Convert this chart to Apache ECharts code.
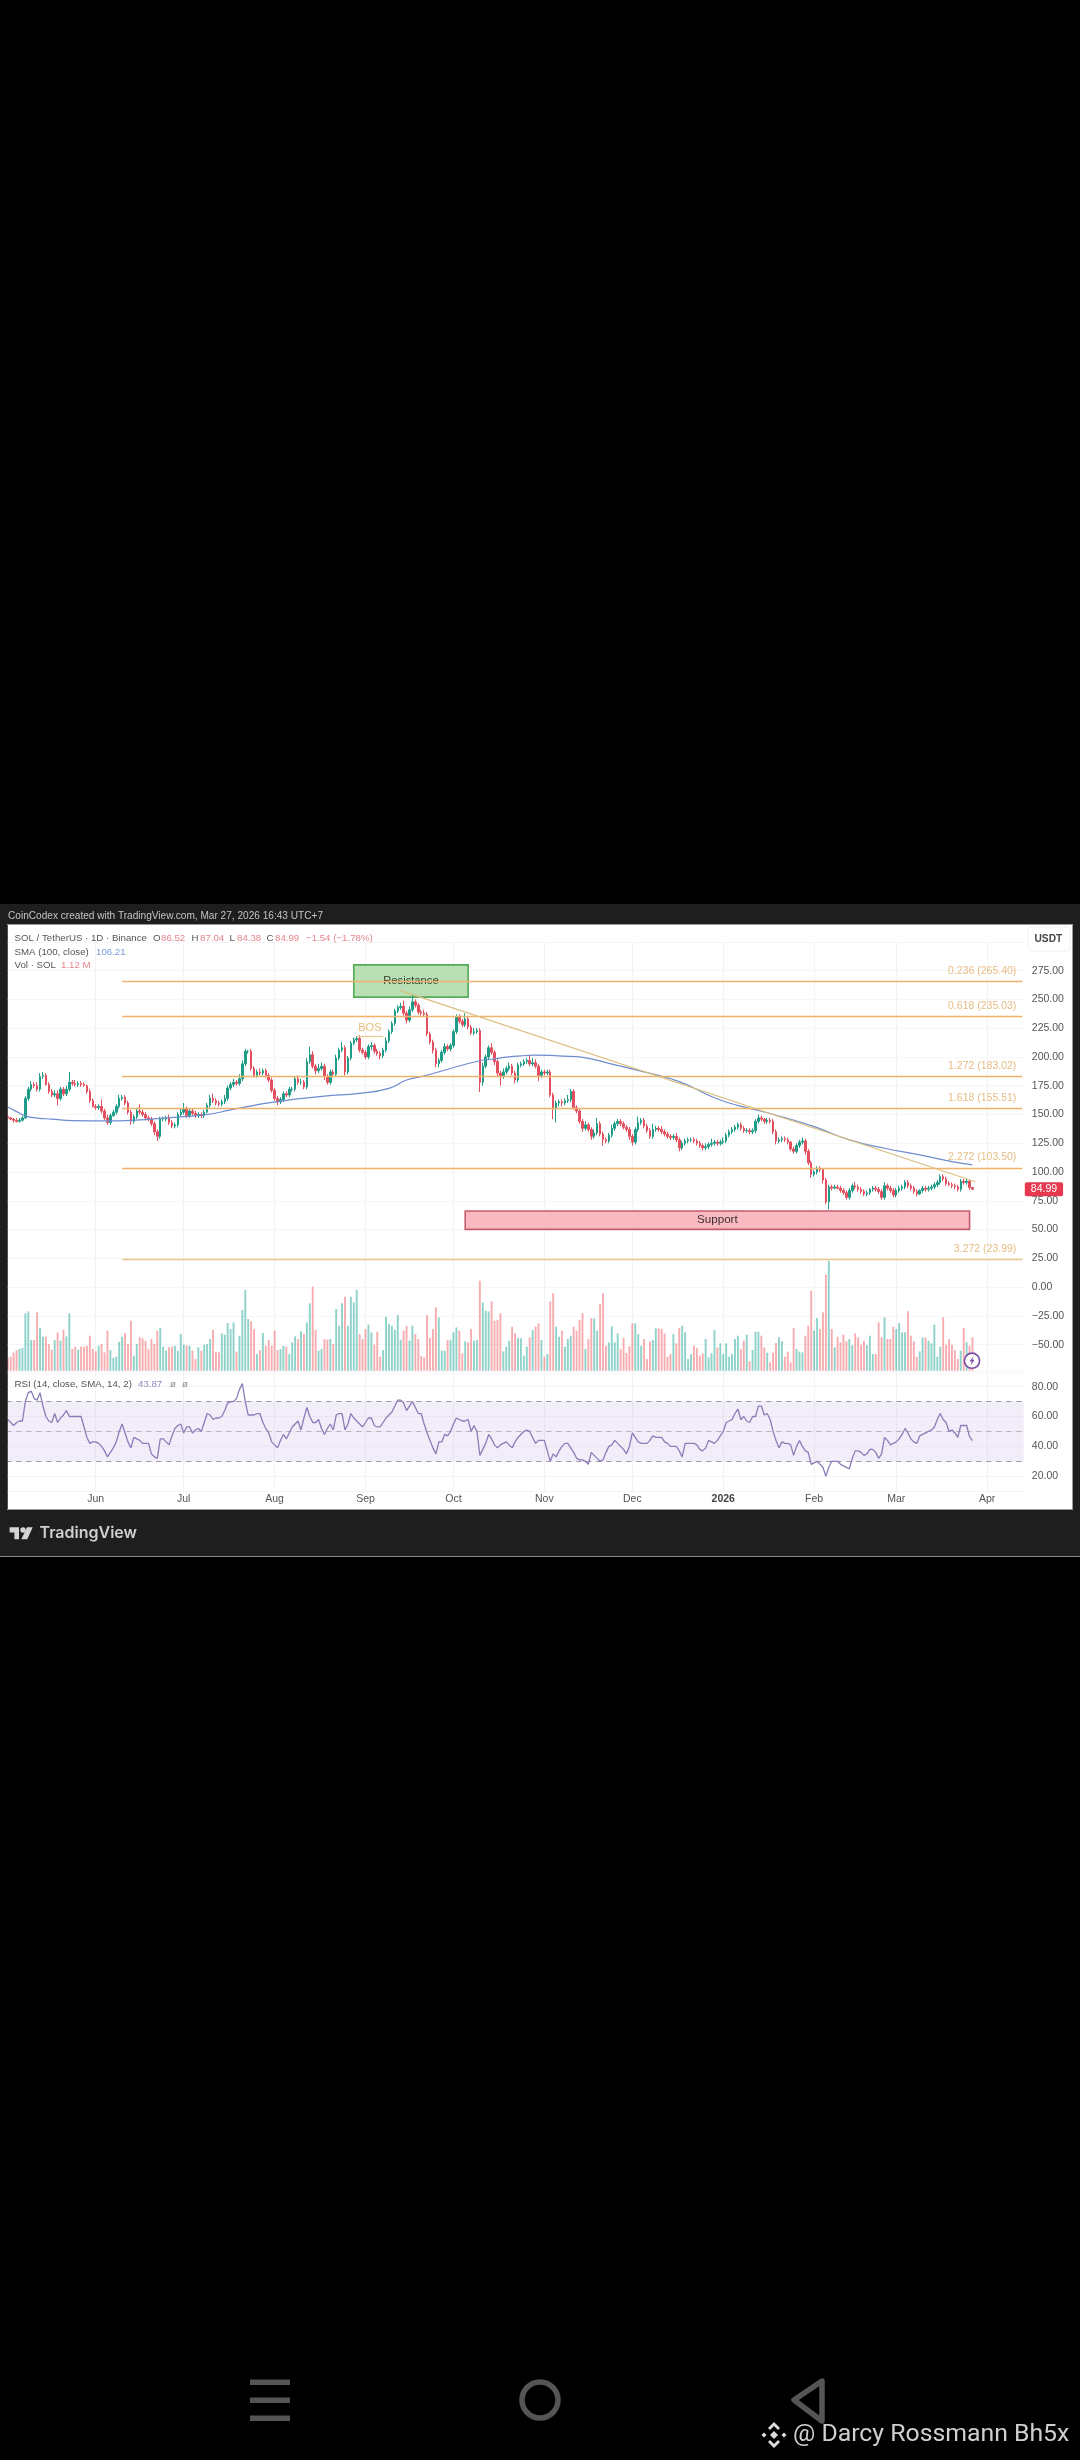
<!DOCTYPE html>
<html><head><meta charset="utf-8">
<style>html,body{margin:0;padding:0;background:#000}#c{width:1080px;height:2460px}
#soft{position:absolute;left:0;top:904px;width:1080px;height:653px;backdrop-filter:blur(0.45px);-webkit-backdrop-filter:blur(0.45px);pointer-events:none}</style>
<script src="https://cdn.jsdelivr.net/npm/echarts@6/dist/echarts.min.js"></script>
</head><body><div id="c"></div><div id="soft"></div>
<script>
// Daily closes, May 2 2025 -> Mar 27 2026
const closes = [
147,146,145,144,145,147,164,172,176,175,
172,183,184,176,170,167,168,164,172,168,
172,178,177,176,177,176,175,170,162,157,
156,157,153,147,143,149,152,157,164,165,
160,152,144,148,153,152,150,147,146,142,
135,131,146,146,147,143,140,141,150,152,
155,149,153,151,149,150,149,152,158,164,
162,160,159,161,164,173,176,178,177,181,
194,205,205,190,184,187,186,188,184,180,
171,164,161,163,168,167,172,172,181,178,
178,174,196,202,192,188,190,192,183,178,
187,185,199,206,208,187,199,212,215,216,
206,204,200,209,210,205,203,201,206,214,
222,229,240,243,244,238,232,241,248,245,
239,238,237,220,213,206,194,197,204,209,
207,210,222,235,231,228,233,226,221,222,
223,178,192,200,208,204,196,186,183,187,
190,192,186,180,193,194,196,197,194,195,
192,184,187,186,187,167,155,160,161,160,
162,163,170,156,153,144,138,141,137,131,
134,142,133,128,127,132,138,142,144,142,
139,137,131,126,137,143,145,140,136,131,
137,138,137,135,133,131,130,131,128,121,
125,127,128,128,127,125,123,121,122,124,
125,126,125,126,127,132,135,137,139,141,
138,136,136,135,136,144,147,146,144,145,
144,135,127,128,129,128,126,120,118,123,
126,127,118,108,98,100,103,102,93,74,
87,86,87,86,84,82,78,84,88,87,
85,83,81,82,85,86,85,83,78,88,
86,84,80,84,86,87,91,88,86,83,
81,84,86,85,86,87,89,91,96,94,
90,89,88,87,85,92,91,92,86.52,84.99];
const firstOpen = 148;
const wickUp = [
2,1,1,2,2,2,2,2,3,2,
3,3,3,2,2,2,3,3,2,2,
3,9,2,3,2,2,2,1,2,2,
2,2,6,2,3,2,2,2,3,2,
2,2,2,2,3,6,2,2,2,2,
2,2,2,2,2,3,2,2,2,3,
5,2,2,2,2,2,2,2,2,3,
4,2,2,2,3,2,2,3,2,4,
3,2,1,2,2,2,3,2,2,2,
2,2,2,2,2,2,2,2,2,3,
3,2,3,7,3,2,4,3,2,2,
2,2,3,2,5,2,2,2,2,2,
3,2,2,2,3,2,2,2,2,3,
2,2,2,2,3,5,2,3,6,2,
2,2,3,2,2,2,2,2,2,3,
2,2,2,2,2,2,5,2,2,3,
2,2,3,2,2,4,2,2,2,3,
2,3,2,2,2,2,2,2,5,4,
3,2,2,2,2,2,2,2,2,2,
2,4,2,2,2,2,2,3,2,2,
3,5,2,2,2,2,3,2,2,2,
2,2,2,2,2,5,2,2,2,2,
5,2,2,3,2,2,2,2,3,2,
2,2,2,2,2,2,2,2,3,2,
4,2,2,2,3,2,2,2,2,2,
2,2,2,2,2,2,3,2,1,2,
2,2,2,2,2,2,2,1,2,2,
2,3,2,2,2,2,2,2,1,2,
2,2,2,2,2,2,2,2,2,3.6,
2,2,2,2,1,2,2,2,2,3,
2,2,2,2,2,2,2,2,2,2,
2,1,2,2,2,2,2,2,2,2,
2,2,2,2,2,2,2,2,1,0.52];
const wickDown = [
1,1,2,1,1,1,1,2,2,2,
2,2,2,1,2,2,2,6,2,2,
2,2,2,2,2,2,1,2,2,1,
2,2,2,2,2,2,1,2,2,2,
2,2,3,2,2,2,2,2,2,2,
3,4,2,2,2,2,2,2,2,2,
2,2,2,2,2,2,2,2,1,2,
2,2,2,2,2,2,2,2,2,2,
2,2,2,2,2,2,2,2,2,2,
2,2,3,2,2,2,2,2,2,2,
2,2,2,2,2,3,2,2,3,2,
2,2,2,2,2,3,2,2,2,2,
2,2,2,2,3,2,2,3,2,2,
2,2,2,2,2,2,3,2,2,2,
2,2,2,2,2,3,3,3,2,2,
2,2,2,2,2,2,2,2,2,2,
2,8.4,3,2,2,2,3,3,8,2,
2,2,2,3,2,2,2,2,2,2,
2,5,2,2,2,2,9,12,3,3,
2,2,2,2,2,2,3,2,2,3,
2,2,2,5,2,2,2,2,2,2,
2,2,3,3,2,2,2,2,2,2,
2,2,2,2,2,2,2,2,2,3,
2,2,2,2,2,2,2,2,2,2,
2,2,2,2,2,2,2,2,2,2,
2,2,2,2,2,2,2,2,2,2,
2,2,3,2,2,2,2,2,2,2,
2,2,3,2,3,2,2,2,3,2,
6.4,2,1,1,2,2,2,2,2,2,
2,2,2,2,2,2,2,2,2,2,
2,2,2,2,2,2,2,2,2,2,
2,1,2,2,2,2,2,2,2,2,
2,1,2,2,2,2,2,2,2,0.61];
// Relative traded volume
const volumes = [
40,42,55,62,65,68,172,178,92,92,
175,128,102,102,80,63,92,115,90,123,
103,172,65,72,63,72,72,75,105,65,
58,75,80,55,120,62,38,42,87,102,
113,80,150,45,80,100,97,90,65,95,
80,120,128,72,60,70,72,75,60,110,
78,76,75,60,35,70,60,78,80,95,
122,57,55,112,108,143,125,145,57,105,
182,242,155,148,125,50,62,113,75,92,
75,120,62,65,75,72,50,85,103,95,
118,110,145,202,252,122,60,65,95,93,
95,80,185,135,202,222,135,222,205,243,
110,95,125,138,115,78,117,42,62,162,
140,135,122,167,93,120,135,90,135,110,
95,44,40,167,98,125,190,160,60,60,
92,93,115,130,120,52,88,85,125,90,
92,270,205,180,178,208,150,152,172,58,
72,90,132,112,98,97,45,72,100,122,
132,142,92,42,50,208,232,132,102,120,
72,95,105,132,120,152,173,65,95,158,
157,120,200,232,75,85,133,85,112,65,
98,53,73,142,142,110,75,95,35,88,
92,127,127,125,112,42,50,110,82,128,
135,115,35,50,75,68,45,52,95,40,
52,122,70,82,50,82,42,50,95,105,
65,90,108,28,62,117,117,105,70,54,
25,54,83,100,88,42,57,25,128,65,
57,55,105,135,240,120,158,125,175,288,
330,125,70,102,85,108,88,95,77,112,
100,78,90,77,105,50,50,145,100,160,
95,95,132,125,143,115,115,178,105,88,
42,58,100,100,90,82,138,42,72,160,
78,94,78,62,35,60,128,85,75,100];
const rsi = [
58,56,54,56,57,57,70,76,77,72,
71,76,67,60,57,56,62,56,59,61,
64,60,60,60,60,60,53,46,42,43,
43,42,40,37,33,36,39,43,50,55,
49,43,39,46,45,44,42,42,42,35,
33,32,45,45,43,41,47,52,54,55,
49,53,53,49,51,52,50,56,62,61,
58,59,59,60,64,69,70,70,72,78,
82,70,61,61,61,62,62,56,52,49,
43,41,39,44,48,45,49,53,55,57,
51,59,66,60,56,56,58,52,48,52,
55,51,61,62,62,51,55,62,59,57,
55,53,56,59,59,54,53,53,56,59,
61,63,67,71,71,69,64,67,70,66,
62,62,55,49,44,39,35,43,43,48,
47,50,55,59,58,57,57,58,50,54,
50,34,38,42,48,45,41,39,41,42,
43,41,39,43,46,48,50,51,50,46,
42,44,44,44,37,30,35,33,37,40,
42,42,39,36,32,31,31,30,28,36,
34,32,30,31,36,40,41,44,42,40,
38,35,40,49,46,43,42,42,42,44,
47,46,46,46,43,42,40,40,40,37,
33,42,42,42,42,41,38,37,39,44,
43,42,44,47,50,56,57,58,62,65,
58,60,57,56,60,60,67,67,61,62,
58,50,44,39,43,42,42,41,34,40,
44,40,37,36,28,29,30,28,26,20,
26,30,30,30,28,27,26,25,32,37,
37,36,34,35,38,38,36,32,35,46,
44,41,42,43,45,48,52,49,45,43,
42,47,48,49,50,51,53,58,62,58,
56,50,51,49,46,54,54,54,46.5,43.87];
// SMA(100) readings at the day positions listed
const smaDays = [0,3,6,10,15,22,33,45,52,67,76,82,90,97,108,120,130,136,142,151,161,165,170,175,180,185,190,195,205,217,229,240,246,252,264,275,287,299,311,322,329];
const smaValues = [156.5,152.5,148.8,146.9,146,144.7,144.4,145.3,146.7,149.6,154,157,160.5,163,166,168.4,172.7,180,183.5,190,196.7,198,199.8,201,201.6,201.4,200.7,200,194.5,187,178.6,165.6,160,156,148,139.5,128,120.7,114.9,109,106.21];
const fibLevels = [265.40,235.03,183.02,155.51,103.50,23.99];
const fibLabels = ['0.236 (265.40)','0.618 (235.03)','1.272 (183.02)','1.618 (155.51)','2.272 (103.50)','3.272 (23.99)'];
const priceTicks = {min:-75,max:300,interval:25};
const rsiLevels = [70,50,30];

const FONT='"Liberation Sans",Arial,sans-serif';
const startMs=Date.UTC(2025,4,2), N=347;
const dates=[];for(let i=0;i<N;i++){dates.push(new Date(startMs+i*864e5).toISOString().slice(0,10));}
const MONTHS=['Jan','Feb','Mar','Apr','May','Jun','Jul','Aug','Sep','Oct','Nov','Dec'];
const isFirst=(i,v)=>v.slice(8)==='01'&&v>='2025-06';
const opens=closes.map((c,i)=>i?closes[i-1]:firstOpen);
const candles=closes.map((c,i)=>[opens[i],c,Math.min(opens[i],c)-wickDown[i],Math.max(opens[i],c)+wickUp[i]]);
const UP='#1f9c88',DOWN='#e2505f';
const L=6.3,R=56.2;

const fibLines=fibLevels.map((v,i)=>[
 {coord:['2025-06-10',v],lineStyle:{color:i==5?'#e9c68c':'#efb26a',width:1.4,type:'solid'},
  label:{show:true,formatter:fibLabels[i],position:'insideEndTop',distance:[6,5],color:'#e6bd83',fontSize:10.5,fontFamily:FONT}},
 {coord:[dates[N-1],v]}]);
const trend=[{coord:['2025-09-13',257.6],lineStyle:{color:'#dcbf80',width:1.2,type:'solid'},label:{show:false}},{coord:['2026-03-28',91.6]}];
const bos=[{coord:['2025-08-29',218],lineStyle:{color:'#ecc88e',width:1.2,type:'solid'},
  label:{show:true,formatter:'BOS',position:'insideMiddleTop',distance:3,color:'#e9bd79',fontSize:11,fontFamily:FONT}},{coord:['2025-09-07',218]}];
const priceTag={yAxis:84.99,lineStyle:{color:'rgba(0,0,0,0)',width:1,type:'solid'},
  label:{show:true,formatter:'84.99',position:'end',distance:1,backgroundColor:'#e5394f',color:'#fff',padding:[1.5,6],borderRadius:2,fontSize:10.5,fontFamily:FONT}};

const bg=[
 {type:'rect',z:-10,shape:{x:0,y:904,width:1080,height:652},style:{fill:'#1e1e1e'}},
 {type:'rect',z:-10,shape:{x:0,y:1556,width:1080,height:1},style:{fill:'#8a8a8a'}},
 {type:'rect',z:-9,shape:{x:7,y:924,width:1066,height:586},style:{fill:'#9a9a9a'}},
 {type:'rect',z:-8,shape:{x:8,y:925,width:1064,height:584},style:{fill:'#fff'}},
 {type:'rect',z:-7,shape:{x:1028,y:927,width:42,height:24,r:3},style:{fill:'#fff',stroke:'#f2f2f2'}}
];
function txt(x,y,text,extra){return {type:'text',z:50,x,y,style:Object.assign({text,fontFamily:FONT,fontSize:9.7,fill:'#555',verticalAlign:'middle'},extra||{})};}
const red='#e6858c';
const overlay=[
 {type:'rect',z:40,shape:{x:0,y:925,width:7.6,height:584},style:{fill:'#1e1e1e'}},
 txt(8,916.5,'CoinCodex created with TradingView.com, Mar 27, 2026 16:43 UTC+7',{fill:'#c4c4c4',fontSize:10.1}),
 txt(14.5,938,'SOL / TetherUS · 1D · Binance'),
 txt(153,938,'O'),txt(161,938,'86.52',{fill:red}),
 txt(191.5,938,'H'),txt(200,938,'87.04',{fill:red}),
 txt(229.5,938,'L'),txt(237,938,'84.38',{fill:red}),
 txt(266.5,938,'C'),txt(275,938,'84.99',{fill:red}),
 txt(306,938,'−1.54 (−1.78%)',{fill:red}),
 txt(14.5,952,'SMA (100, close)'),txt(96,952,'106.21',{fill:'#7a9bd6'}),
 txt(14.5,965.5,'Vol · SOL'),txt(61,965.5,'1.12 M',{fill:red}),
 txt(14.5,1384,'RSI (14, close, SMA, 14, 2)'),txt(138,1384,'43.87',{fill:'#9a86c4'}),
 txt(170,1384,'ø',{fill:'#888'}),txt(182,1384,'ø',{fill:'#888'}),
 txt(1034.5,939,'USDT',{fontWeight:'bold',fill:'#444',fontSize:10.2}),
 // flash icon
 {type:'circle',z:60,shape:{cx:972,cy:1360.7,r:7.6},style:{fill:'#fff',stroke:'#7a4ea3',lineWidth:1.6}},
 {type:'polygon',z:61,shape:{points:[[973.6,1356],[969.5,1361.6],[971.8,1361.6],[970.6,1365.4],[974.6,1359.8],[972.3,1359.8]]},style:{fill:'#7a4ea3'}},
 // TradingView logo
 {type:'polygon',z:50,shape:{points:[[9.6,1527.3],[19,1527.3],[19,1539.3],[14.4,1539.3],[14.4,1532.4],[9.6,1532.4]]},style:{fill:'#d4d4d4'}},
 {type:'circle',z:50,shape:{cx:23,cy:1530,r:2.7},style:{fill:'#d4d4d4'}},
 {type:'polygon',z:50,shape:{points:[[27,1527.3],[32.7,1527.3],[27.3,1539.3],[21.3,1539.3]]},style:{fill:'#d4d4d4'}},
 txt(39.5,1533.5,'TradingView',{fill:'#cfcfcf',fontSize:16,fontWeight:'600',fontFamily:'Inter,"Liberation Sans",sans-serif'}),
 // phone navigation bar
 {type:'rect',z:50,shape:{x:250,y:2379.5,width:40,height:5.4},style:{fill:'#555'}},
 {type:'rect',z:50,shape:{x:250,y:2397.5,width:40,height:5.4},style:{fill:'#555'}},
 {type:'rect',z:50,shape:{x:250,y:2415.5,width:40,height:5.4},style:{fill:'#555'}},
 {type:'circle',z:50,shape:{cx:540,cy:2400,r:18},style:{fill:'none',stroke:'#555',lineWidth:5.5}},
 {type:'polygon',z:50,shape:{points:[[822,2381],[794,2400],[822,2421]]},style:{fill:'none',stroke:'#555',lineWidth:5.5,lineJoin:'round'}},
 // watermark
 {type:'polygon',z:50,shape:{points:[[774,2431],[778,2435],[774,2439],[770,2435]]},style:{fill:'#ddd'}},
 {type:'polygon',z:50,shape:{points:[[774,2422],[780,2428],[778,2430],[774,2426],[770,2430],[768,2428]]},style:{fill:'#ddd'}},
 {type:'polygon',z:50,shape:{points:[[774,2448],[780,2442],[778,2440],[774,2444],[770,2440],[768,2442]]},style:{fill:'#ddd'}},
 {type:'polygon',z:50,shape:{points:[[764,2432.5],[766.5,2435],[764,2437.5],[761.5,2435]]},style:{fill:'#ddd'}},
 {type:'polygon',z:50,shape:{points:[[784,2432.5],[786.5,2435],[784,2437.5],[781.5,2435]]},style:{fill:'#ddd'}},
 txt(793,2435,'@ Darcy Rossmann Bh5x',{fill:'#cfcfcf',fontSize:24.8,fontFamily:'Roboto,sans-serif'})
];

const chart=echarts.init(document.getElementById('c'),null,{renderer:'canvas'});
const gridX={left:L,right:R};
const vertical={show:true,alignWithLabel:true,interval:isFirst,lineStyle:{color:'#f3f3f3',width:1}};
chart.setOption({
 animation:false,backgroundColor:'#000',
 graphic:bg.concat(overlay),
 grid:[
  Object.assign({top:941.9,height:431.5},gridX),
  Object.assign({top:1252.7,height:118},gridX),
  Object.assign({top:1371.7,height:119.5},gridX)
 ],
 xAxis:[
  {type:'category',gridIndex:0,data:dates,boundaryGap:true,axisLine:{show:false},axisTick:{show:false},axisLabel:{show:false},splitLine:vertical},
  {type:'category',gridIndex:1,data:dates,boundaryGap:true,show:false},
  {type:'category',gridIndex:2,data:dates,boundaryGap:true,axisLine:{show:false},axisTick:{show:false},splitLine:vertical,
   axisLabel:{show:true,interval:isFirst,margin:2,hideOverlap:false,color:'#555',fontSize:10.5,fontFamily:FONT,
    formatter:v=>{const m=+v.slice(5,7);return m===1?'{b|'+v.slice(0,4)+'}':MONTHS[m-1];},
    rich:{b:{fontWeight:'bold',color:'#444',fontSize:10.5,fontFamily:FONT}}}}
 ],
 yAxis:[
  {type:'value',gridIndex:0,position:'right',min:priceTicks.min,max:priceTicks.max,interval:priceTicks.interval,axisLine:{show:false},axisTick:{show:false},
   splitLine:{show:true,lineStyle:{color:'#f6f6f6'}},
   axisLabel:{margin:8,color:'#555',fontSize:10.5,fontFamily:FONT,formatter:v=>(v===priceTicks.min||v===priceTicks.max)?'':v.toFixed(2).replace('-','−')}},
  {type:'value',gridIndex:1,min:0,max:354,show:false},
  {type:'value',gridIndex:2,position:'right',min:10,max:90,interval:10,axisLine:{show:false},axisTick:{show:false},
   splitLine:{show:true,lineStyle:{color:'#f6f4fb'}},
   axisLabel:{margin:8,color:'#555',fontSize:10.5,fontFamily:FONT,formatter:v=>(v%20===0)?v.toFixed(2):''}}
 ],
 series:[
  {type:'bar',name:'Vol',xAxisIndex:1,yAxisIndex:1,barWidth:1.9,data:volumes,z:1,
   itemStyle:{color:p=>closes[p.dataIndex]>=opens[p.dataIndex]?'rgba(30,166,150,.5)':'rgba(239,83,90,.48)'}},
  {type:'candlestick',name:'SOL',xAxisIndex:0,yAxisIndex:0,barWidth:2,data:candles,z:4,
   itemStyle:{color:UP,color0:DOWN,borderColor:UP,borderColor0:DOWN,borderWidth:1},
   markArea:{silent:true,z:1,data:[
    [{coord:['2025-08-28',280],itemStyle:{color:'#b9e0b4',borderColor:'#52ab57',borderWidth:1.6},label:{show:true,formatter:'Resistance',position:'inside',color:'#333c2e',fontSize:11.2,fontFamily:FONT}},{coord:['2025-10-06',252]}],
    [{coord:['2025-10-05',66.1],itemStyle:{color:'#f9b9c1',borderColor:'#c65b70',borderWidth:1.6},label:{show:true,formatter:'Support',position:'inside',color:'#3d3033',fontSize:11.6,fontFamily:FONT}},{coord:['2026-03-26',50.2]}]
   ]}},
  {type:'line',name:'SMA',xAxisIndex:0,yAxisIndex:0,symbol:'none',z:5,smooth:true,lineStyle:{color:'#6f8ccf',width:1.2},
   data:smaDays.map((d,i)=>[d,smaValues[i]]),
   markLine:{silent:true,symbol:['none','none'],animation:false,z:6,data:fibLines.concat([trend,bos,priceTag])}},
  {type:'line',name:'RSI',xAxisIndex:2,yAxisIndex:2,symbol:'none',z:5,data:rsi,lineStyle:{color:'#8b7cb8',width:1.3},
   markArea:{silent:true,z:1,itemStyle:{color:'rgba(126,87,194,.1)'},data:[[{yAxis:rsiLevels[0]},{yAxis:rsiLevels[2]}]]},
   markLine:{silent:true,symbol:['none','none'],animation:false,label:{show:false},
    data:rsiLevels.map((v,i)=>({yAxis:v,lineStyle:{color:i==1?'#b5b1bd':'#9d99a5',type:[5,5],width:1.1}}))}}
 ]
});
</script></body></html>
